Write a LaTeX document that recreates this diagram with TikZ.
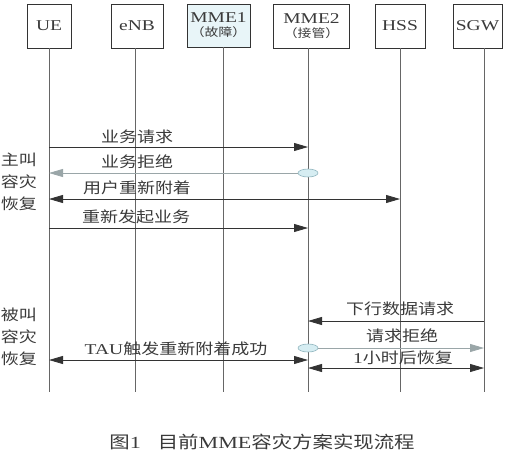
\documentclass[tikz,border=0pt]{standalone}
\usepackage{fontspec}
\setmainfont{Liberation Serif}[FakeStretch=1.3]
\newfontfamily\cjk{Noto Sans CJK SC}[FakeStretch=1.2]
\usetikzlibrary{arrows.meta,shapes.geometric}
\definecolor{linec}{HTML}{333333}
\definecolor{lifec}{HTML}{666666}
\definecolor{grayc}{HTML}{9AA6A8}
\definecolor{boxfill}{HTML}{E8F5F8}
\definecolor{ellfill}{HTML}{D6EDF2}
\definecolor{ellline}{HTML}{8FB4BE}
\definecolor{txtc}{HTML}{3A3A3A}
\begin{document}
\begin{tikzpicture}[x=1pt,y=-1pt,
  box/.style={draw=linec, line width=0.8pt, minimum height=44pt, inner sep=0pt, text=txtc,
    font=\fontsize{15}{15}\selectfont, align=center},
  life/.style={draw=lifec, line width=0.8pt},
  msg/.style={draw=linec, line width=0.8pt, -{Triangle[length=14pt,width=8pt]}},
  dmsg/.style={draw=linec, line width=0.8pt, {Triangle[length=14pt,width=8pt]}-{Triangle[length=14pt,width=8pt]}},
  gmsg/.style={draw=grayc, line width=0.8pt, -{Triangle[length=14pt,width=8pt]}},
  lbl/.style={font=\fontsize{15}{15}\selectfont, text=txtc, inner sep=0pt},
  sub/.style={},
  side/.style={font=\cjk\fontsize{15}{22}\selectfont, text=txtc, align=center, inner sep=0pt},
  ell/.style={ellipse, draw=ellline, fill=ellfill, line width=0.6pt, minimum width=20pt, minimum height=8pt, inner sep=0pt}
]
\useasboundingbox (0,0) rectangle (515,456);

% boxes
\node[box, minimum width=44pt] (ue) at (49,26) {UE};
\node[box, minimum width=52pt] (enb) at (137,26) {eNB};
\node[box, minimum width=63pt, minimum height=43pt, fill=boxfill] (mme1) at (218.5,25.5) {MME1\\[-1pt]{\cjk\fontsize{11.5}{11.5}\selectfont （故障）}};
\node[box, minimum width=76pt] (mme2) at (311.5,26) {MME2\\[-1pt]{\cjk\fontsize{11.5}{11.5}\selectfont （接管）}};
\node[box, minimum width=50pt] (hss) at (400,26) {HSS};
\node[box, minimum width=49pt] (sgw) at (477.5,26) {SGW};

% lifeline bottoms
\coordinate (ueB) at (49,392);
\coordinate (enbB) at (135,392);
\coordinate (m1B) at (223,392);
\coordinate (m2B) at (308,392);
\coordinate (hssB) at (400,392);
\coordinate (sgwB) at (484,392);

\draw[life] (ueB |- ue.south) -- (ueB);
\draw[life] (enbB |- enb.south) -- (enbB);
\draw[life] (m1B |- mme1.south) -- (m1B);
\draw[life] (m2B |- mme2.south) -- (m2B);
\draw[life] (hssB |- hss.south) -- (hssB);
\draw[life] (sgwB |- sgw.south) -- (sgwB);

% rows
\coordinate (r1) at (0,147);
\coordinate (r2) at (0,173);
\coordinate (r3) at (0,199);
\coordinate (r4) at (0,228);
\coordinate (r5) at (0,321);
\coordinate (r6) at (0,348);
\coordinate (r7) at (0,360);
\coordinate (r8) at (0,368);

% upper section
\draw[msg] (ueB |- r1) -- (m2B |- r1);
\node[lbl] (l1) at (137,137) {\cjk 业务请求};
\node[ell] (e1) at (m2B |- r2) {};
\draw[gmsg] (e1.west) -- (ueB |- r2);
\node[lbl] (l2) at (137,162) {\cjk 业务拒绝};
\draw[dmsg] (ueB |- r3) -- (hssB |- r3);
\node[lbl] (l3) at (137,188) {\cjk 用户重新附着};
\draw[msg] (ueB |- r4) -- (m2B |- r4);
\node[lbl] (l4) at (136,217) {\cjk 重新发起业务};

\node[side] (s1) at (19,182) {主叫\\容灾\\恢复};

% lower section
\draw[msg] (sgwB |- r5) -- (m2B |- r5);
\node[lbl] (l5) at (400,309) {\cjk 下行数据请求};
\node[ell] (e2) at (m2B |- r6) {};
\draw[gmsg] (e2.east) -- (sgwB |- r6);
\node[lbl] (l6) at (402,336) {\cjk 请求拒绝};
\draw[dmsg] (ueB |- r7) -- (m2B |- r7);
\node[lbl] (l7) at (176,349) {TAU{\cjk 触发重新附着成功}};
\draw[dmsg] (m2B |- r8) -- (sgwB |- r8);
\node[lbl] (l8) at (403,358) {1{\cjk 小时后恢复}};

\node[side] (s2) at (19,337) {被叫\\容灾\\恢复};

% caption
\node[lbl, font=\fontsize{17}{17}\selectfont] (cap) at (262,442) {{\cjk 图}1\quad{\cjk 目前}MME{\cjk 容灾方案实现流程}};
\end{tikzpicture}
\end{document}
